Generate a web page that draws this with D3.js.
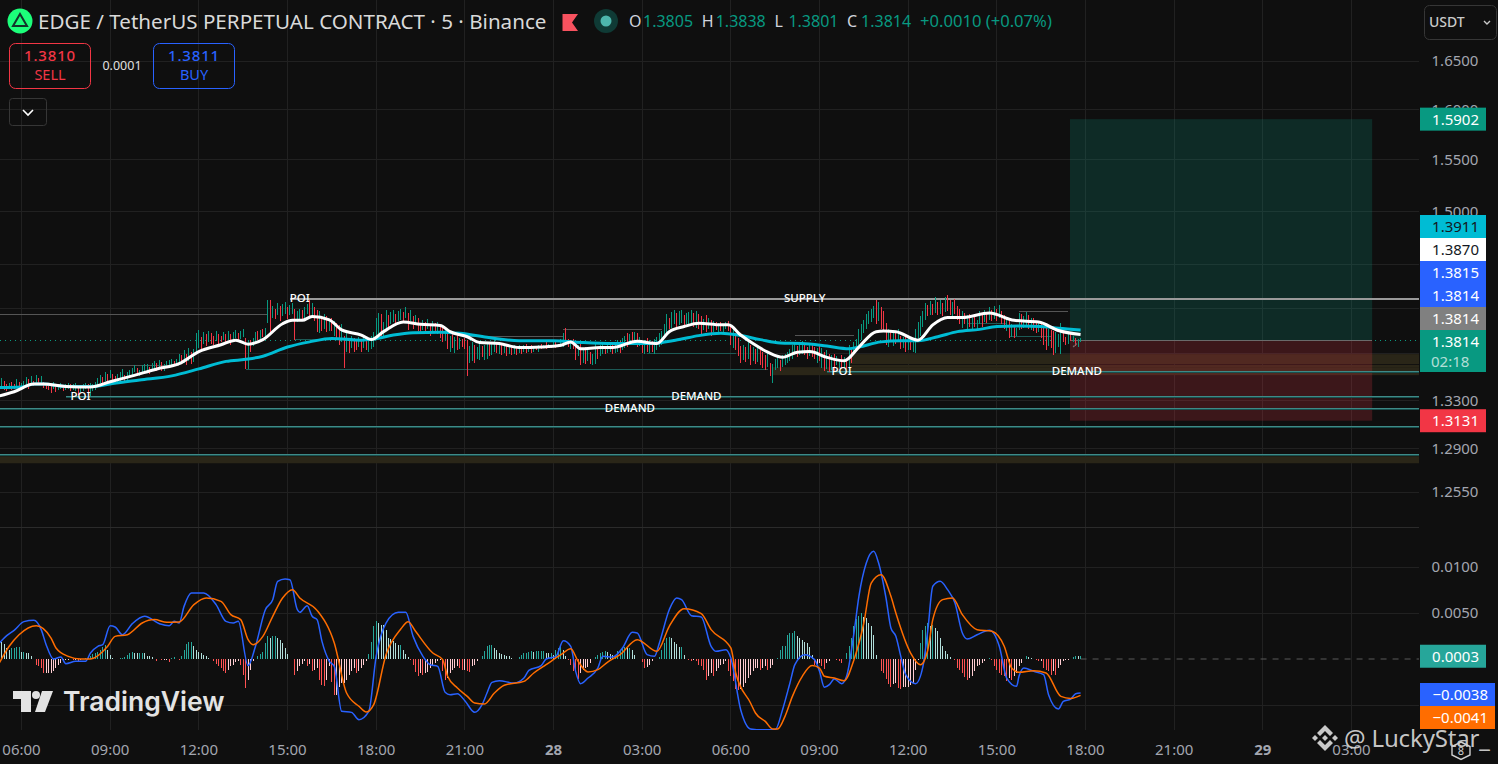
<!DOCTYPE html>
<html>
<head>
<meta charset="utf-8">
<script src="https://cdn.jsdelivr.net/npm/d3@7"></script>
<style>
html, body { margin: 0; padding: 0; background: #0f0f0f; overflow: hidden; }
svg { display: block; font-family: "Noto Sans", sans-serif; }
</style>
</head>
<body>
<svg id="chart" width="1498" height="764"></svg>
<script>
// 5 minute bars, bar 0 is 06:00 on the 27th, one row = 10 bars
var candleHigh = [
1.345,1.349,1.347,1.344,1.345,1.346,1.344,1.348,1.346,1.345,
1.347,1.350,1.348,1.351,1.347,1.352,1.349,1.351,1.346,1.345,
1.345,1.344,1.346,1.344,1.344,1.345,1.343,1.344,1.345,1.344,
1.344,1.345,1.343,1.342,1.344,1.345,1.344,1.345,1.344,1.346,
1.349,1.352,1.350,1.354,1.353,1.356,1.353,1.351,1.353,1.354,
1.357,1.352,1.354,1.356,1.358,1.360,1.358,1.356,1.360,1.361,
1.361,1.359,1.362,1.364,1.362,1.365,1.363,1.361,1.364,1.365,
1.366,1.364,1.366,1.370,1.369,1.373,1.370,1.375,1.372,1.374,
1.388,1.391,1.385,1.389,1.387,1.390,1.388,1.386,1.390,1.387,
1.386,1.389,1.387,1.390,1.387,1.389,1.391,1.388,1.390,1.392,
1.384,1.382,1.382,1.384,1.389,1.390,1.391,1.392,1.393,1.418,
1.418,1.412,1.410,1.415,1.412,1.414,1.416,1.411,1.413,1.415,
1.410,1.408,1.410,1.409,1.411,1.414,1.418,1.415,1.411,1.409,
1.408,1.402,1.405,1.403,1.400,1.402,1.399,1.397,1.395,1.396,
1.386,1.388,1.384,1.386,1.384,1.382,1.385,1.383,1.386,1.384,
1.384,1.386,1.389,1.402,1.406,1.405,1.398,1.409,1.404,1.407,
1.409,1.405,1.408,1.410,1.407,1.411,1.406,1.409,1.403,1.404,
1.402,1.397,1.400,1.398,1.401,1.396,1.399,1.397,1.398,1.394,
1.395,1.391,1.388,1.386,1.388,1.385,1.387,1.384,1.383,1.384,
1.382,1.377,1.380,1.378,1.376,1.379,1.377,1.378,1.380,1.379,
1.379,1.382,1.380,1.378,1.379,1.377,1.378,1.376,1.377,1.378,
1.377,1.378,1.376,1.378,1.379,1.377,1.378,1.377,1.376,1.378,
1.379,1.378,1.380,1.379,1.378,1.380,1.381,1.379,1.383,1.388,
1.393,1.383,1.381,1.383,1.380,1.378,1.379,1.375,1.376,1.374,
1.372,1.370,1.379,1.376,1.378,1.380,1.377,1.379,1.380,1.378,
1.379,1.382,1.381,1.384,1.386,1.388,1.387,1.389,1.389,1.388,
1.385,1.381,1.382,1.384,1.382,1.381,1.383,1.385,1.388,1.390,
1.396,1.405,1.402,1.407,1.409,1.406,1.408,1.409,1.404,1.406,
1.407,1.409,1.406,1.408,1.405,1.403,1.401,1.404,1.402,1.400,
1.399,1.398,1.397,1.398,1.396,1.398,1.399,1.396,1.393,1.388,
1.384,1.377,1.378,1.376,1.380,1.378,1.376,1.374,1.376,1.373,
1.372,1.369,1.371,1.362,1.361,1.366,1.368,1.365,1.369,1.370,
1.372,1.374,1.378,1.380,1.377,1.379,1.381,1.379,1.376,1.379,
1.378,1.376,1.375,1.377,1.375,1.372,1.373,1.370,1.369,1.370,
1.368,1.366,1.369,1.367,1.365,1.378,1.376,1.380,1.383,1.392,
1.396,1.400,1.405,1.408,1.410,1.412,1.418,1.416,1.411,1.408,
1.397,1.392,1.391,1.390,1.389,1.392,1.386,1.385,1.386,1.384,
1.384,1.382,1.392,1.398,1.403,1.408,1.415,1.413,1.417,1.414,
1.420,1.416,1.418,1.415,1.420,1.422,1.418,1.416,1.419,1.412,
1.410,1.408,1.406,1.404,1.405,1.402,1.404,1.400,1.408,1.406,
1.409,1.407,1.411,1.409,1.412,1.410,1.413,1.408,1.404,1.402,
1.399,1.396,1.394,1.393,1.406,1.405,1.403,1.407,1.404,1.402,
1.402,1.399,1.397,1.398,1.394,1.393,1.392,1.391,1.390,1.389,
1.387,1.397,1.389,1.385,1.387,1.388,1.386,1.384,1.383,1.3838
];
var candleLow = [
1.340,1.341,1.339,1.338,1.340,1.339,1.340,1.341,1.340,1.341,
1.342,1.343,1.340,1.344,1.342,1.345,1.343,1.344,1.341,1.340,
1.339,1.336,1.340,1.337,1.339,1.340,1.338,1.339,1.340,1.338,
1.339,1.338,1.335,1.337,1.338,1.340,1.337,1.334,1.338,1.339,
1.343,1.345,1.344,1.347,1.346,1.349,1.346,1.344,1.346,1.347,
1.350,1.345,1.347,1.350,1.352,1.354,1.351,1.351,1.354,1.355,
1.354,1.353,1.356,1.357,1.355,1.358,1.355,1.355,1.358,1.358,
1.360,1.360,1.361,1.363,1.361,1.362,1.360,1.364,1.361,1.363,
1.372,1.375,1.374,1.379,1.377,1.380,1.379,1.378,1.381,1.379,
1.380,1.382,1.380,1.382,1.378,1.381,1.384,1.380,1.383,1.385,
1.357,1.357,1.372,1.377,1.380,1.382,1.383,1.385,1.385,1.397,
1.387,1.402,1.401,1.404,1.399,1.403,1.405,1.401,1.404,1.405,
1.382,1.398,1.400,1.399,1.401,1.405,1.403,1.402,1.399,1.389,
1.388,1.390,1.392,1.389,1.390,1.390,1.386,1.384,1.378,1.380,
1.358,1.372,1.371,1.375,1.372,1.373,1.376,1.372,1.375,1.373,
1.372,1.374,1.376,1.382,1.385,1.386,1.385,1.390,1.392,1.396,
1.398,1.396,1.399,1.400,1.398,1.402,1.391,1.399,1.392,1.396,
1.390,1.388,1.391,1.387,1.392,1.386,1.389,1.388,1.387,1.384,
1.380,1.381,1.374,1.372,1.375,1.371,1.373,1.374,1.376,1.374,
1.351,1.362,1.364,1.362,1.366,1.365,1.367,1.365,1.366,1.368,
1.369,1.372,1.371,1.370,1.369,1.371,1.368,1.370,1.369,1.370,
1.369,1.371,1.370,1.372,1.371,1.372,1.371,1.372,1.373,1.372,
1.374,1.375,1.374,1.376,1.375,1.376,1.375,1.377,1.376,1.376,
1.378,1.376,1.374,1.374,1.365,1.368,1.360,1.362,1.361,1.364,
1.361,1.360,1.361,1.366,1.368,1.370,1.370,1.371,1.372,1.370,
1.371,1.372,1.371,1.373,1.375,1.376,1.378,1.379,1.380,1.376,
1.377,1.371,1.370,1.372,1.371,1.372,1.370,1.373,1.376,1.378,
1.386,1.388,1.392,1.393,1.396,1.394,1.395,1.397,1.393,1.396,
1.395,1.397,1.394,1.393,1.392,1.387,1.391,1.389,1.392,1.386,
1.389,1.391,1.388,1.390,1.389,1.392,1.390,1.378,1.375,1.373,
1.368,1.362,1.365,1.363,1.366,1.360,1.364,1.361,1.363,1.360,
1.358,1.356,1.359,1.351,1.345,1.356,1.358,1.355,1.359,1.360,
1.362,1.364,1.366,1.369,1.367,1.369,1.370,1.369,1.366,1.368,
1.367,1.366,1.362,1.364,1.358,1.355,1.357,1.354,1.356,1.355,
1.360,1.358,1.357,1.358,1.357,1.354,1.362,1.370,1.374,1.378,
1.382,1.388,1.392,1.396,1.398,1.402,1.396,1.399,1.392,1.390,
1.378,1.376,1.380,1.377,1.379,1.381,1.374,1.375,1.372,1.373,
1.373,1.372,1.371,1.380,1.386,1.394,1.400,1.403,1.404,1.404,
1.406,1.404,1.405,1.403,1.407,1.408,1.404,1.403,1.405,1.400,
1.396,1.393,1.396,1.392,1.394,1.392,1.394,1.392,1.396,1.394,
1.398,1.397,1.400,1.399,1.401,1.399,1.402,1.396,1.392,1.390,
1.384,1.385,1.384,1.386,1.391,1.392,1.393,1.394,1.392,1.391,
1.390,1.388,1.389,1.384,1.378,1.373,1.377,1.375,1.369,1.371,
1.376,1.370,1.380,1.378,1.379,1.381,1.380,1.377,1.376,1.3801
];
var candleClose = [
1.342,1.345,1.342,1.341,1.343,1.342,1.341,1.345,1.343,1.344,
1.345,1.348,1.344,1.349,1.346,1.350,1.347,1.348,1.344,1.342,
1.341,1.338,1.343,1.340,1.342,1.343,1.340,1.342,1.343,1.340,
1.341,1.342,1.338,1.340,1.342,1.343,1.339,1.341,1.343,1.345,
1.348,1.350,1.347,1.352,1.349,1.354,1.350,1.346,1.351,1.352,
1.355,1.347,1.352,1.354,1.356,1.358,1.353,1.354,1.358,1.359,
1.359,1.355,1.360,1.362,1.358,1.363,1.358,1.359,1.362,1.363,
1.364,1.361,1.365,1.368,1.364,1.370,1.363,1.372,1.365,1.370,
1.384,1.387,1.379,1.386,1.382,1.388,1.384,1.381,1.387,1.384,
1.382,1.387,1.383,1.388,1.380,1.385,1.389,1.383,1.387,1.389,
1.365,1.380,1.378,1.383,1.387,1.385,1.389,1.387,1.391,1.412,
1.392,1.407,1.403,1.412,1.402,1.410,1.413,1.403,1.410,1.412,
1.388,1.403,1.406,1.404,1.408,1.412,1.405,1.409,1.403,1.394,
1.395,1.392,1.399,1.393,1.396,1.391,1.394,1.388,1.382,1.390,
1.373,1.382,1.376,1.383,1.378,1.375,1.382,1.376,1.384,1.379,
1.382,1.384,1.387,1.399,1.402,1.393,1.396,1.406,1.398,1.404,
1.407,1.398,1.405,1.408,1.401,1.409,1.395,1.405,1.397,1.402,
1.393,1.390,1.397,1.392,1.398,1.390,1.396,1.391,1.395,1.388,
1.384,1.386,1.378,1.382,1.376,1.381,1.377,1.380,1.378,1.376,
1.363,1.370,1.376,1.369,1.374,1.376,1.370,1.375,1.377,1.372,
1.376,1.379,1.374,1.377,1.372,1.375,1.371,1.374,1.372,1.375,
1.373,1.376,1.372,1.376,1.374,1.376,1.373,1.376,1.374,1.377,
1.376,1.377,1.375,1.378,1.376,1.379,1.376,1.378,1.381,1.385,
1.381,1.378,1.380,1.376,1.370,1.374,1.364,1.371,1.368,1.372,
1.366,1.369,1.377,1.372,1.376,1.378,1.373,1.376,1.378,1.374,
1.376,1.380,1.375,1.382,1.384,1.380,1.386,1.383,1.387,1.379,
1.380,1.375,1.379,1.377,1.379,1.376,1.381,1.383,1.386,1.388,
1.394,1.402,1.397,1.405,1.407,1.398,1.405,1.407,1.397,1.403,
1.405,1.407,1.397,1.404,1.398,1.391,1.397,1.393,1.399,1.392,
1.396,1.393,1.395,1.392,1.394,1.396,1.393,1.381,1.386,1.376,
1.372,1.365,1.372,1.367,1.374,1.364,1.371,1.364,1.370,1.365,
1.362,1.359,1.366,1.354,1.359,1.363,1.365,1.361,1.367,1.368,
1.370,1.372,1.376,1.378,1.372,1.376,1.379,1.374,1.371,1.376,
1.372,1.369,1.373,1.366,1.371,1.360,1.366,1.358,1.364,1.360,
1.361,1.363,1.360,1.365,1.362,1.374,1.372,1.378,1.381,1.390,
1.394,1.398,1.403,1.406,1.409,1.412,1.403,1.405,1.396,1.392,
1.381,1.388,1.385,1.387,1.383,1.389,1.378,1.382,1.376,1.381,
1.376,1.379,1.390,1.396,1.401,1.406,1.412,1.406,1.414,1.409,
1.415,1.411,1.415,1.408,1.417,1.412,1.409,1.414,1.408,1.404,
1.400,1.403,1.398,1.401,1.397,1.400,1.396,1.399,1.404,1.400,
1.406,1.403,1.409,1.405,1.410,1.406,1.410,1.401,1.396,1.399,
1.391,1.393,1.388,1.391,1.403,1.397,1.401,1.404,1.396,1.399,
1.398,1.392,1.395,1.389,1.383,1.377,1.386,1.381,1.374,1.378,
1.380,1.392,1.384,1.381,1.384,1.383,1.385,1.379,1.3805,1.3814
];

// moving averages, read at the bars where they bend
var fastBars = [-9,-3,5,9,18,28,36,45,55,64,72,81,87,92,98,106,110,114,118,125,130,138,142,147,155,162,170,174,181,186,194,202,211,219,223,227,235,240,250,258,263,269,275,284,287,292,297,303,309,315,320,327,334,340,347,350,355,364,370,376,382,393,403,413,421,430];
var fastValues = [1.334,1.3375,1.344,1.344,1.342,1.3415,1.346,1.351,1.357,1.3615,1.372,1.378,1.382,1.3785,1.3825,1.3965,1.3995,1.3995,1.403,1.400,1.391,1.3865,1.3825,1.3895,1.398,1.396,1.395,1.3895,1.385,1.380,1.379,1.3755,1.376,1.3775,1.3805,1.3745,1.3755,1.3755,1.381,1.379,1.3895,1.394,1.397,1.3955,1.3955,1.3865,1.379,1.3715,1.367,1.3715,1.372,1.367,1.364,1.376,1.3895,1.390,1.3895,1.382,1.3955,1.402,1.402,1.406,1.3995,1.398,1.3905,1.387];
var slowBars = [-9,0,5,9,18,29,37,48,61,72,83,92,98,108,117,126,138,143,151,159,170,178,189,202,216,227,240,252,258,267,275,284,291,300,308,317,327,336,340,349,357,364,372,380,389,396,405,414,421,430];
var slowValues = [1.341,1.3415,1.344,1.344,1.342,1.342,1.3445,1.3475,1.351,1.357,1.3635,1.3655,1.368,1.376,1.3805,1.3835,1.382,1.383,1.3865,1.3885,1.389,1.388,1.3845,1.3815,1.3815,1.380,1.379,1.379,1.3795,1.3825,1.386,1.388,1.3865,1.3825,1.3795,1.379,1.3768,1.3745,1.376,1.3805,1.3815,1.3815,1.385,1.3895,1.3915,1.394,1.3945,1.394,1.3925,1.391];

// levels and zones drawn on the chart (price, first bar, last bar)
var supplyLevel = [1.419, 109, 570];
var demandPrices = [1.3338, 1.3235, 1.3085, 1.285, 1.3546];
var demandStarts = [18, -9, -9, -9, 327];
var grayPrices = [1.4051, 1.3597, 1.3849, 1.3913, 1.3864, 1.407];
var grayStarts = [-9, -9, 180, 220, 314, 405];
var grayEnds = [100, 64, 220, 260, 338, 425];
var tealPrices = [1.3564, 1.3825, 1.3707, 1.397, 1.3855];
var tealStarts = [91, 111, 254, 384, 401];
var tealEnds = [303, 131, 290, 400, 418];
var zoneTops = [1.3698, 1.3604, 1.3585, 1.2838];
var zoneBottoms = [1.3611, 1.3585, 1.3516, 1.2781];
var zoneStarts = [336, 336, 305, -9];

var noteTexts = ["POI", "POI", "SUPPLY", "DEMAND", "DEMAND", "POI", "DEMAND"];
var noteBars = [24, 113, 318, 247, 274, 333, 428.5];
var notePrices = [1.3338, 1.4195, 1.4195, 1.3235, 1.3338, 1.355, 1.355];

// long position tool
var entryPrice = 1.3814, targetPrice = 1.5902, stopPrice = 1.3131;
var toolStart = 425.7, toolEnd = 548.4;

// MACD pane, values in thousandths
var macdHist = [
1.9,1.8,1.6,1.2,1.0,1.2,1.2,1.3,1.3,.8,
.8,.7,.6,.3,0,-.6,-.8,-1,-1.5,-1.5,
-1.5,-1.5,-1.3,-1,-.6,-.4,-.25,-.15,-.07,0,
-.1,-.1,-.2,-.1,0,.1,.2,.3,.5,.65,
.8,1,1.3,1.55,1,.45,.1,0,0,.07,
.1,.2,.45,.65,.8,.65,.6,.65,.7,.65,
.35,.3,.2,0,-.2,-.05,-.15,-.1,-.1,-.35,
.15,.2,-.05,-.1,.3,1,1.6,1.8,1.8,1.4,
1,.8,.7,.45,.3,.1,0,-.25,-.5,-.8,
-1,-1.35,-1.5,-1.15,-.8,-.6,-.35,-.25,-.6,-1.7,
-3.15,-2.25,-1.15,-.25,-.05,.3,.5,.8,1.75,2.45,
2.3,2.45,2.45,2.3,2.1,1.75,1.2,.5,0,-.05,
-1.7,-1.35,-.8,-.5,-.25,-.8,-.5,-1.25,-1.15,-1,
-2.25,-2.8,-2.95,-2.25,-.8,-2.5,-3.9,-3.9,-3,-2.6,
-2.6,-2.25,-1.7,-1.35,-1,-1.5,-1.35,-1,-.6,-.25,
.5,1.9,3.55,4.1,3.9,3.75,3.7,3.2,2.3,2.2,
2,1.7,1.5,1.55,1,.5,.2,-.1,-.7,-1.4,
-1.8,-1.5,-1.7,-1.5,-1.4,-1,-.7,-.4,-.2,-.1,
-1.3,-2.25,-2.05,-1.5,-1.2,-1,-.8,-1,-1.2,-1.2,
-1.3,-1.4,-.8,-.6,-.25,0,.3,.85,1.4,1.5,
1.55,1.2,1,.7,.5,.45,.35,.3,.1,.05,
-.02,.2,.45,.65,.7,.8,.85,.8,.85,.85,
.85,.85,.65,.6,.65,.45,1,1.2,1.4,1,
.3,-.1,-.6,-1.3,-1.35,-2.2,-1.5,-1.15,-1,-.9,
-.45,.05,.2,.45,.65,.75,.85,.75,.55,.45,
.45,.85,1,1.2,1.3,1.2,1.2,1,.45,0,
-.05,-.35,-.95,-.85,-.7,-.25,0,0,.2,1,
1.7,2.3,2.4,2.3,1.9,1.65,1.3,1.3,.45,-.02,
-.1,-.2,-.15,-.2,-.6,-.8,-1.15,-2.25,-1.9,-1.5,
-1.9,-1.35,-1,-.7,-.5,-.25,-1.35,-1.8,-2.4,-3.3,
-3.4,-3.3,-3,-2.6,-2.1,-1.7,-1.3,-1,-1,-1.2,
-1,-.8,-1.15,-1,-.7,-.05,.1,1,1.4,1.45,
2.65,2.85,2.85,3,2.45,2.3,2.1,1.9,1.75,1.3,
.45,-.6,-.5,-.45,-.8,-1.1,-.45,-.25,.05,.05,
-.15,-.25,-.45,0,.65,1.4,2.3,3.55,4.35,4.65,
5,4.55,4.45,3.9,3.55,2.65,.45,0,-1.35,-1.5,
-2.2,-2.7,-3,-2.7,-2.6,-3.15,-3.3,-3,-3,-3,
-2.8,-2.6,-1.2,-.1,1.7,3.2,3.55,3.9,3.55,3.7,
3.4,3,2.3,1.4,.85,.5,.2,0,-.1,-1,
-1.2,-1.5,-1.95,-2.25,-2.05,-1.9,-1.35,-.8,-.7,-.45,
-.25,0,.1,-.15,-.8,-1.15,-1.5,-1.7,-1.9,-2.4,
-2.05,-2.25,-1.9,-1.5,-.8,-.45,0,.3,.2,.1,
0,-.15,-.25,-.25,-1,-1.15,-1.35,-1.7,-1.35,-1.7,
-1,-.6,-.25,-.15,-.07,0,.2,.35,.3,.3
];
var macdBars = [-9,-6,-3,1,5,8,10,13,16,18,22,26,28,31,33,36,38,41,45,50,56,60,62,64,66,69,74,79,83,86,88,92,95,99,102,104,107,109,112,113,116,118,120,122,125,127,130,134,137,141,144,148,153,156,159,163,166,169,172,174,177,180,184,187,189,191,194,200,204,206,211,213,217,220,223,225,227,230,234,236,240,244,248,250,254,257,259,263,266,268,272,276,280,282,286,288,292,296,301,306,309,312,314,318,322,324,326,328,330,333,335,338,340,343,346,348,351,353,355,357,359,363,366,368,370,373,376,379,382,384,388,393,397,400,404,405,407,411,415,417,421,423,426,428,430];
var macdValues = [1.74,2.54,3.12,4.06,4.2,3.19,1.56,0,.22,-.51,-.25,-.25,.65,1.38,1.56,3.62,3.48,2.64,3.84,4.64,3.84,3.62,4.09,3.91,5.72,7.17,7.17,5.91,4.09,3.91,4.09,-.72,1.38,5.36,6.45,8.44,8.7,8.62,5.36,5.07,5.8,4.64,4.28,1.92,-.25,-.8,-5.69,-5.8,-6.59,-5.69,.29,3.91,5.07,5.07,2.46,.29,-.62,-.8,-3.62,-3.88,-3.77,-4.53,-5.8,-4.96,-3.7,-2.54,-2.36,-2.61,-2.07,-1.23,-.72,0,.29,1.99,1.38,-1.34,-2.68,-2.07,-.98,.29,.22,1.2,2.9,2.83,.47,.29,1.74,5.36,6.63,6.45,4.71,4.57,1.38,.83,1.01,.11,-5.51,-7.6,-7.7,-7.7,-5.51,-2.61,-.62,.47,-.07,-1.34,-3.08,-2.79,-2.17,-2.68,-1.88,2.83,6.81,10.43,11.7,10.43,6.63,3.37,2.46,.29,-1.7,-2.68,-.8,3.19,7.9,8.44,7.54,6.09,2.83,2.17,2.64,3.12,1.38,-2.07,-2.97,-1.88,-.98,-1.34,-1.7,-3.88,-5.43,-4.6,-4.35,-3.77,-3.7];
var signalBars = [-9,-5,-1,6,12,14,19,24,28,35,38,43,49,54,59,64,70,75,81,85,89,92,94,98,102,106,110,113,120,127,132,137,140,143,148,154,157,160,167,171,173,177,181,184,188,192,196,204,208,213,219,223,226,230,234,238,243,250,258,263,269,276,280,288,290,296,298,302,305,307,310,313,317,321,324,326,330,334,338,342,345,349,353,355,361,365,368,370,374,378,382,388,394,399,402,405,411,416,422,426,430];
var signalValues = [-.43,1.38,2.64,3.62,2.28,1.2,.29,0,0,1.38,2.46,2.64,3.91,4.28,3.99,4.02,5.91,6.63,6.27,4.82,4.28,2.1,1.56,2.46,4.64,6.63,7.54,6.63,5.29,1.74,-3.7,-5.14,-5.76,-4.96,.47,3.26,4.06,3.01,.65,-.07,-1.88,-3.15,-4.06,-4.78,-4.89,-3.7,-2.86,-2.43,-1.52,-.62,.47,1.12,-.25,-1.41,-1.16,-.33,.47,2.1,.83,3.55,5.47,4.93,3.19,1.2,-1.52,-4.78,-5.87,-6.78,-7.6,-7.6,-6.23,-4.06,-1.88,-.72,-.98,-1.88,-2.07,-2.36,-.07,3.91,8.26,9.17,6.81,5,.65,-.62,1.01,4.28,6.45,6.63,4.82,3.19,3.01,1.38,-.98,-1.45,-1.27,-1.52,-4.06,-4.28,-3.95];

// axes
var priceTicks = [1.65, 1.6, 1.55, 1.5, 1.45, 1.41, 1.37, 1.33, 1.29, 1.255];
var macdTicks = [10, 5, 0, -5];
var macdTickLabels = [10, 5];
var timeBars = [0, 36, 72, 108, 144, 180, 216, 252, 288, 324, 360, 396, 432, 468, 504, 540];
var timeLabels = ["06:00", "09:00", "12:00", "15:00", "18:00", "21:00", "28", "03:00", "06:00", "09:00", "12:00", "15:00", "18:00", "21:00", "29", "03:00"];

// right hand price labels
var stackTexts = ["1.3911", "1.3870", "1.3815", "1.3814", "1.3814", "1.3814"];
var stackFills = ["#00bcd4", "#ffffff", "#2962ff", "#2962ff", "#808080", "#089981"];
var stackInks = ["#131722", "#131722", "#ffffff", "#ffffff", "#ffffff", "#ffffff"];
var paneTexts = ["\u22120.0038", "\u22120.0041"];
var paneFills = ["#2962ff", "#ff6d00"];

var ohlcLetters = ["O", "H", "L", "C"];
var ohlcValues = ["1.3805", "1.3838", "1.3801", "1.3814"];

var svg = d3.select("#chart");
var chartRight = 1419, paneTop = 527, paneBottom = 730;

var x = d3.scaleLinear().domain([0, 432]).range([21.5, 1085.5]);
var y = d3.scaleLog().domain([1.65, 1.255]).range([61, 492]);
var m = d3.scaleLinear().domain([10, -5]).range([567, 705]);

var clip = svg.append("defs");
clip.append("clipPath").attr("id", "price-clip").append("rect")
  .attr("width", chartRight).attr("height", paneTop);
clip.append("clipPath").attr("id", "macd-clip").append("rect")
  .attr("y", paneTop).attr("width", chartRight).attr("height", paneBottom - paneTop);

// grid
var grid = svg.append("g").attr("stroke", "#212121").attr("shape-rendering", "crispEdges");
grid.selectAll(".gx").data(timeBars).enter().append("line")
  .attr("x1", d => x(d)).attr("x2", d => x(d)).attr("y1", 0).attr("y2", paneBottom);
grid.selectAll(".gy").data(priceTicks).enter().append("line")
  .attr("x1", 0).attr("x2", chartRight).attr("y1", d => y(d)).attr("y2", d => y(d));
grid.selectAll(".gm").data(macdTicks.filter(d => d != 0)).enter().append("line")
  .attr("x1", 0).attr("x2", chartRight).attr("y1", d => m(d)).attr("y2", d => m(d));
grid.append("line").attr("x1", 0).attr("x2", chartRight).attr("y1", paneTop).attr("y2", paneTop)
  .attr("stroke", "#2b2b2b");

var price = svg.append("g").attr("clip-path", "url(#price-clip)");

// olive zones
price.selectAll(".zone").data(zoneTops).enter().append("rect")
  .attr("x", (d, i) => x(zoneStarts[i]))
  .attr("width", (d, i) => chartRight - x(zoneStarts[i]))
  .attr("y", d => y(d))
  .attr("height", (d, i) => y(zoneBottoms[i]) - y(d))
  .attr("fill", "#2a2618");

// position tool
price.append("rect")
  .attr("x", x(toolStart)).attr("width", x(toolEnd) - x(toolStart))
  .attr("y", y(targetPrice)).attr("height", y(entryPrice) - y(targetPrice))
  .attr("fill", "#089981").attr("fill-opacity", 0.2);
price.append("rect")
  .attr("x", x(toolStart)).attr("width", x(toolEnd) - x(toolStart))
  .attr("y", y(entryPrice)).attr("height", y(stopPrice) - y(entryPrice))
  .attr("fill", "#f23645").attr("fill-opacity", 0.2);

// thin drawn levels
var thin = price.append("g").attr("shape-rendering", "crispEdges").attr("fill", "none");
thin.selectAll(".gray").data(grayPrices).enter().append("line")
  .attr("x1", (d, i) => x(grayStarts[i])).attr("x2", (d, i) => x(grayEnds[i]))
  .attr("y1", d => y(d)).attr("y2", d => y(d))
  .attr("stroke", "#555555");
thin.selectAll(".teal").data(tealPrices).enter().append("line")
  .attr("x1", (d, i) => x(tealStarts[i])).attr("x2", (d, i) => x(tealEnds[i]))
  .attr("y1", d => y(d)).attr("y2", d => y(d))
  .attr("stroke", "#1d5a56");

// demand levels, light line with a dark one under it
thin.selectAll(".dem").data(demandPrices).enter().append("line")
  .attr("x1", (d, i) => x(demandStarts[i])).attr("x2", chartRight)
  .attr("y1", d => y(d) + 1).attr("y2", d => y(d) + 1)
  .attr("stroke", "#17504e");
thin.selectAll(".dem2").data(demandPrices).enter().append("line")
  .attr("x1", (d, i) => x(demandStarts[i])).attr("x2", chartRight)
  .attr("y1", d => y(d)).attr("y2", d => y(d))
  .attr("stroke", "#3f8a87");

// supply level
thin.append("line")
  .attr("x1", x(supplyLevel[1])).attr("x2", chartRight)
  .attr("y1", y(supplyLevel[0])).attr("y2", y(supplyLevel[0]))
  .attr("stroke", "#9a9a9a").attr("stroke-width", 2);

// last price line
thin.append("line")
  .attr("x1", 0).attr("x2", chartRight)
  .attr("y1", y(entryPrice)).attr("y2", y(entryPrice))
  .attr("stroke", "#089981").attr("stroke-dasharray", "1 4");
thin.append("line")
  .attr("x1", x(toolStart)).attr("x2", x(toolEnd))
  .attr("y1", y(entryPrice)).attr("y2", y(entryPrice))
  .attr("stroke", "#6a6a6a");

// candles, body and wick are the same pixel wide at this zoom
var candles = price.append("g").attr("shape-rendering", "crispEdges");
candleClose.forEach(function(c, i) {
  var open = i == 0 ? c : candleClose[i - 1];
  var col = c >= open ? "#089981" : "#f23645";
  var bar = i - 9;
  candles.append("line")
    .attr("x1", x(bar)).attr("x2", x(bar))
    .attr("y1", y(candleHigh[i])).attr("y2", y(candleLow[i]))
    .attr("stroke", col);
});

// moving averages
var emaLine = d3.line().curve(d3.curveMonotoneX).x(d => x(d[0])).y(d => y(d[1]));
price.append("path")
  .datum(d3.zip(slowBars, slowValues))
  .attr("d", emaLine).attr("fill", "none")
  .attr("stroke", "#00bcd4").attr("stroke-width", 3);
price.append("path")
  .datum(d3.zip(fastBars, fastValues))
  .attr("d", emaLine).attr("fill", "none")
  .attr("stroke", "#ffffff").attr("stroke-width", 3);

// small drag mark at the tool's corner
price.append("line")
  .attr("x1", x(427)).attr("x2", x(428.6))
  .attr("y1", y(1.376)).attr("y2", y(1.3795))
  .attr("stroke", "#707070").attr("stroke-width", 1.5).attr("stroke-dasharray", "2 1");

// notes on the chart
price.selectAll(".note").data(noteTexts).enter().append("text")
  .attr("x", (d, i) => x(noteBars[i]))
  .attr("y", (d, i) => y(notePrices[i]))
  .attr("dy", "0.36em")
  .attr("text-anchor", "middle")
  .attr("font-size", 11.5)
  .attr("font-weight", 500)
  .attr("fill", "#ffffff")
  .text(d => d);

// MACD pane
var macdPane = svg.append("g").attr("clip-path", "url(#macd-clip)");
macdPane.append("line")
  .attr("x1", x(430)).attr("x2", chartRight).attr("y1", m(0)).attr("y2", m(0))
  .attr("stroke", "#5a5a5a").attr("stroke-dasharray", "6 6");

function histColor(d, i) {
  var prev = i == 0 ? d : macdHist[i - 1];
  if (d >= 0) return d >= prev ? "#26a69a" : "#b2dfdb";
  return d >= prev ? "#ffcdd2" : "#ff5252";
}
macdPane.append("g").attr("shape-rendering", "crispEdges")
  .selectAll("line").data(macdHist).enter().append("line")
  .attr("x1", (d, i) => x(i - 9)).attr("x2", (d, i) => x(i - 9))
  .attr("y1", m(0))
  .attr("y2", d => m(d))
  .attr("stroke", histColor);

var macdLine = d3.line().curve(d3.curveMonotoneX).x(d => x(d[0])).y(d => m(d[1]));
macdPane.append("path")
  .datum(d3.zip(macdBars, macdValues))
  .attr("d", macdLine).attr("fill", "none")
  .attr("stroke", "#2962ff").attr("stroke-width", 1.5);
macdPane.append("path")
  .datum(d3.zip(signalBars, signalValues))
  .attr("d", macdLine).attr("fill", "none")
  .attr("stroke", "#ff6d00").attr("stroke-width", 1.5);

// TradingView logo
var logo = svg.append("g").attr("fill", "#e3e3e3");
logo.append("path").attr("d", "M13 691H31V712H21V699H13Z");
logo.append("circle").attr("cx", 36).attr("cy", 695).attr("r", 4);
logo.append("path").attr("d", "M42 691H53L45 712H35Z");
logo.append("text").attr("x", 63).attr("y", 711)
  .attr("font-size", 26.5).attr("font-weight", 600).attr("font-family", "Inter, 'Noto Sans', sans-serif")
  .text("TradingView");

// price axis
var axisText = svg.append("g").attr("fill", "#a3a6af").attr("font-size", 15).attr("text-anchor", "middle");
axisText.selectAll(".py").data(priceTicks).enter().append("text")
  .attr("x", 1455).attr("y", d => y(d)).attr("dy", "0.36em")
  .text(d => d3.format(".4f")(d));
axisText.selectAll(".my").data(macdTickLabels).enter().append("text")
  .attr("x", 1455).attr("y", d => m(d)).attr("dy", "0.36em")
  .text(d => d3.format(".4f")(d / 1000));

// time axis
axisText.selectAll(".tx").data(timeLabels).enter().append("text")
  .attr("x", (d, i) => x(timeBars[i])).attr("y", 750).attr("dy", "0.36em")
  .attr("font-weight", d => d.length == 2 ? 700 : 400)
  .text(d => d);

// price badges
function badge(top, h, w, fill, ink, label) {
  svg.append("rect").attr("x", 1420).attr("y", top).attr("width", w).attr("height", h).attr("fill", fill);
  svg.append("text").attr("x", 1420 + w - 7).attr("y", top + 11.5).attr("dy", "0.36em")
    .attr("text-anchor", "end").attr("font-size", 15).attr("fill", ink).text(label);
}
badge(y(targetPrice) - 11.5, 23, 66, "#089981", "#ffffff", "1.5902");
badge(y(stopPrice) - 11.5, 23, 66, "#f23645", "#ffffff", "1.3131");
stackTexts.forEach(function(t, i) {
  badge(215 + i * 23, i == 5 ? 42 : 23, 66, stackFills[i], stackInks[i], t);
});
svg.append("text").attr("x", 1431).attr("y", 361.5).attr("dy", "0.36em")
  .attr("font-size", 15).attr("fill", "#ffffff").attr("fill-opacity", 0.7).text("02:18");
badge(m(0.3) - 11.5, 23, 66, "#26a69a", "#ffffff", "0.0003");
paneTexts.forEach(function(t, i) {
  badge(683 + i * 23, 23, 75, paneFills[i], "#ffffff", t);
});

// legend row
svg.append("circle").attr("cx", 20).attr("cy", 21).attr("r", 12.5).attr("fill", "#1cff7a");
svg.append("path").attr("d", "M20 14L27 26H13Z").attr("fill", "none").attr("stroke", "#12352a").attr("stroke-width", 2);
svg.append("text").attr("x", 38).attr("y", 28.5).attr("font-size", 20.6).attr("fill", "#d9d9d9")
  .text("EDGE / TetherUS PERPETUAL CONTRACT \u00b7 5 \u00b7 Binance");
svg.append("path").attr("d", "M562.5 14H578L572 22.500L578 31H562.5Z").attr("fill", "#f7525f");
svg.append("circle").attr("cx", 606).attr("cy", 21).attr("r", 12).attr("fill", "#0f3a35");
svg.append("circle").attr("cx", 606).attr("cy", 21).attr("r", 5.500).attr("fill", "#4db6ac");

var ohlc = svg.append("g").attr("font-size", 16);
ohlcLetters.forEach(function(l, i) {
  var left = 629 + i * 72.7;
  ohlc.append("text").attr("x", left).attr("y", 27).attr("fill", "#d1d4dc").text(l);
  ohlc.append("text").attr("x", left + 14).attr("y", 27).attr("fill", "#089981").text(ohlcValues[i]);
});
ohlc.append("text").attr("x", 920).attr("y", 27).attr("font-size", 16.6).attr("fill", "#089981").text("+0.0010 (+0.07%)");

// buy and sell buttons
function tradeBox(left, col, priceText, label) {
  svg.append("rect").attr("x", left + .5).attr("y", 43.5).attr("width", 81).attr("height", 45).attr("rx", 6)
    .attr("fill", "none").attr("stroke", col);
  svg.append("text").attr("x", left + 41).attr("y", 56).attr("dy", "0.36em").attr("text-anchor", "middle")
    .attr("font-size", 15).attr("font-weight", 500).attr("letter-spacing", 0.8).attr("fill", col).text(priceText);
  svg.append("text").attr("x", left + 41).attr("y", 75).attr("dy", "0.36em").attr("text-anchor", "middle")
    .attr("font-size", 14.5).attr("fill", col).text(label);
}
tradeBox(9, "#f23645", "1.3810", "SELL");
tradeBox(153, "#2962ff", "1.3811", "BUY");
svg.append("text").attr("x", 122).attr("y", 65).attr("dy", "0.36em").attr("text-anchor", "middle")
  .attr("font-size", 12.5).attr("fill", "#e0e0e0").text("0.0001");

svg.append("rect").attr("x", 9.5).attr("y", 98.5).attr("width", 37).attr("height", 27).attr("rx", 3)
  .attr("fill", "none").attr("stroke", "#363636");
svg.append("path").attr("d", "M23 110L28 115L33 110").attr("fill", "none").attr("stroke", "#ffffff").attr("stroke-width", 1.6);

// currency button
svg.append("rect").attr("x", 1424.5).attr("y", 5.5).attr("width", 72).attr("height", 34).attr("rx", 5)
  .attr("fill", "none").attr("stroke", "#363636");
svg.append("text").attr("x", 1429).attr("y", 22).attr("dy", "0.36em").attr("font-size", 14).attr("font-weight", 500)
  .attr("fill", "#c9c9c9").text("USDT");
svg.append("path").attr("d", "M1484 21L1487 24L1490 21").attr("fill", "none").attr("stroke", "#c9c9c9").attr("stroke-width", 1.4);

// watermark over the bottom right corner
var mark = svg.append("g").attr("fill", "#dedede").attr("fill-opacity", 0.9);
mark.append("path").attr("d", "M1325 725L1333 733L1330 736L1325 731L1320 736L1317 733Z");
mark.append("path").attr("d", "M1325 751L1333 743L1330 740L1325 745L1320 740L1317 743Z");
mark.append("path").attr("d", "M1312 738L1315 735L1318 738L1315 741Z");
mark.append("path").attr("d", "M1332 738L1335 735L1338 738L1335 741Z");
mark.append("path").attr("d", "M1325 735L1328 738L1325 741L1322 738Z");
mark.append("text").attr("x", 1344).attr("y", 747).attr("font-size", 24)
  .attr("textLength", 146).attr("lengthAdjust", "spacing").text("@ LuckyStar_");
svg.append("path").attr("d", "M1461 742L1470 746.500V755L1461 759.500L1452 755V746.500Z")
  .attr("fill", "none").attr("stroke", "#cfcfcf").attr("stroke-width", 1.4);
svg.append("text").attr("x", 1461).attr("y", 751).attr("dy", "0.36em").attr("text-anchor", "middle")
  .attr("font-size", 11).attr("fill", "#cfcfcf").text("8");
</script>
</body>
</html>
